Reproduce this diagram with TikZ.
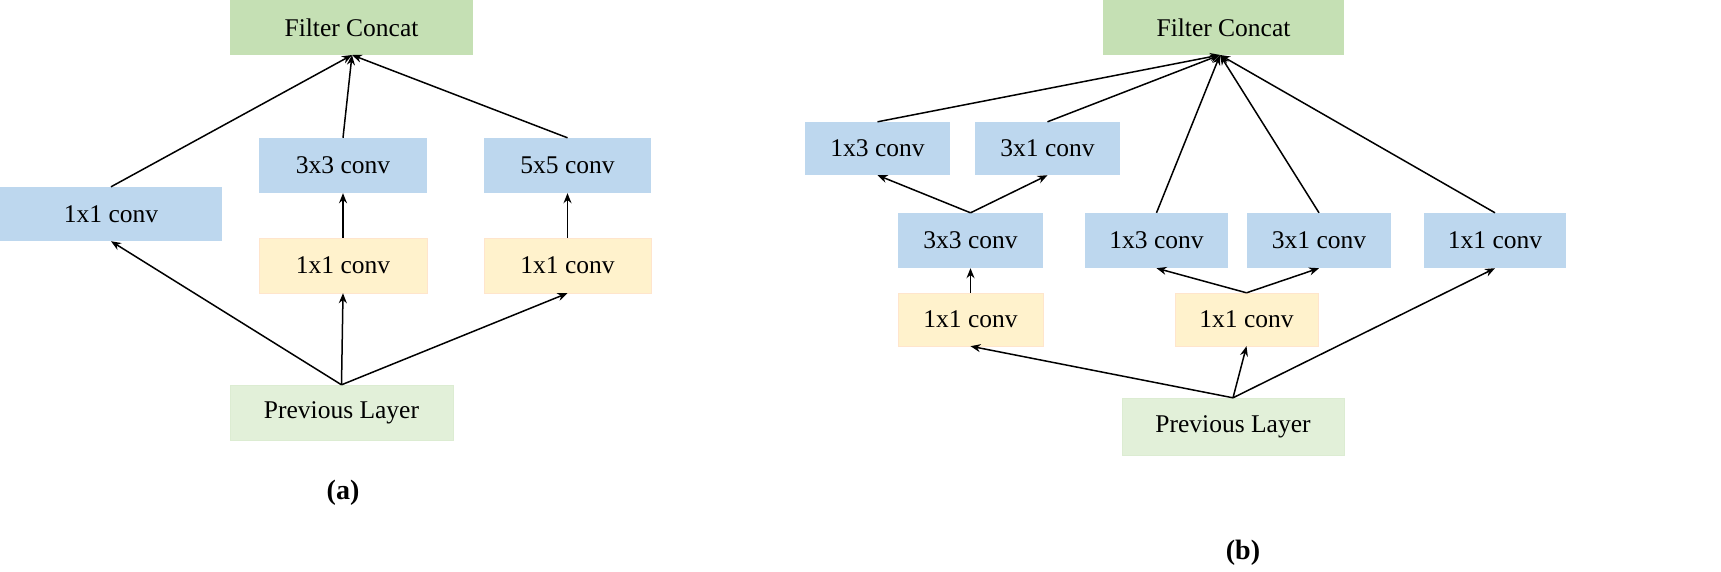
\documentclass[tikz,border=0pt]{standalone}
\usepackage{fontspec}
\setmainfont{Liberation Serif}
\usetikzlibrary{arrows.meta}
\definecolor{cgreen}{HTML}{C5E0B4}
\definecolor{clgreen}{HTML}{E2F0D9}
\definecolor{cblue}{HTML}{BDD7EE}
\definecolor{cyellow}{HTML}{FFF2CC}
\tikzset{
  box/.style={inner sep=0pt, font=\fontsize{25.5}{28}\selectfont},
  gbox/.style={box, fill=cgreen},
  lgbox/.style={box, fill=clgreen, draw=cgreen!60!white},
  bbox/.style={box, fill=cblue},
  ybox/.style={box, fill=cyellow, draw=orange!20},
  arr/.style={-{Stealth[length=10pt,width=8pt]}, line width=1.5pt},
  lab/.style={font=\fontsize{28}{32}\selectfont\bfseries}
}
\begin{document}
\begin{tikzpicture}[x=1pt,y=-1pt]
\useasboundingbox (0,0) rectangle (1721,571);
% panel a
\node[gbox, minimum width=243, minimum height=55] (fa) at (351.5,27.5) {Filter Concat};
\node[bbox, minimum width=222, minimum height=54] (a1) at (111,214) {1x1 conv};
\node[bbox, minimum width=168, minimum height=55] (a33) at (343,165.5) {3x3 conv};
\node[bbox, minimum width=167, minimum height=55] (a55) at (567.5,165.5) {5x5 conv};
\node[ybox, minimum width=168, minimum height=55] (ay1) at (343,265.5) {1x1 conv};
\node[ybox, minimum width=167, minimum height=55] (ay2) at (567.5,265.5) {1x1 conv};
\node[lgbox, minimum width=223, minimum height=55] (pa) at (341.5,412.5) {Previous Layer};
\node[lab] (la) at (343,493) {(a)};
\coordinate (ca) at (352,55);
\draw[arr] (pa.north) -- (a1.south);
\draw[arr] (pa.north) -- (ay1.south);
\draw[arr] (pa.north) -- (ay2.south);
\draw[arr] (ay1.north) -- (a33.south);
\draw[arr] (ay2.north) -- (a55.south);
\draw[arr] (a1.north) -- (ca);
\draw[arr] (a33.north) -- (ca);
\draw[arr] (a55.north) -- (ca);
% panel b
\node[gbox, minimum width=241, minimum height=55] (fb) at (1223.5,27.5) {Filter Concat};
\node[bbox, minimum width=145, minimum height=53] (b13a) at (877.5,148.5) {1x3 conv};
\node[bbox, minimum width=145, minimum height=53] (b31a) at (1047.5,148.5) {3x1 conv};
\node[bbox, minimum width=145, minimum height=55] (b33) at (970.5,240.5) {3x3 conv};
\node[bbox, minimum width=143, minimum height=55] (b13b) at (1156.5,240.5) {1x3 conv};
\node[bbox, minimum width=144, minimum height=55] (b31b) at (1319,240.5) {3x1 conv};
\node[bbox, minimum width=142, minimum height=55] (b11) at (1495,240.5) {1x1 conv};
\node[ybox, minimum width=145, minimum height=53] (by1) at (970.5,319.5) {1x1 conv};
\node[ybox, minimum width=143, minimum height=53] (by2) at (1246.5,319.5) {1x1 conv};
\node[lgbox, minimum width=222, minimum height=57] (pb) at (1233,426.5) {Previous Layer};
\node[lab] (lb) at (1243,553) {(b)};
\coordinate (cb) at (1220,55);
\draw[arr] (pb.north) -- (by1.south);
\draw[arr] (pb.north) -- (by2.south);
\draw[arr] (pb.north) -- (b11.south);
\draw[arr] (by1.north) -- (b33.south);
\draw[arr] (b33.north) -- (b13a.south);
\draw[arr] (b33.north) -- (b31a.south);
\draw[arr] (by2.north) -- (b13b.south);
\draw[arr] (by2.north) -- (b31b.south);
\foreach \n in {b13a,b31a,b13b,b31b,b11} \draw[arr] (\n.north) -- (cb);
\end{tikzpicture}
\end{document}
